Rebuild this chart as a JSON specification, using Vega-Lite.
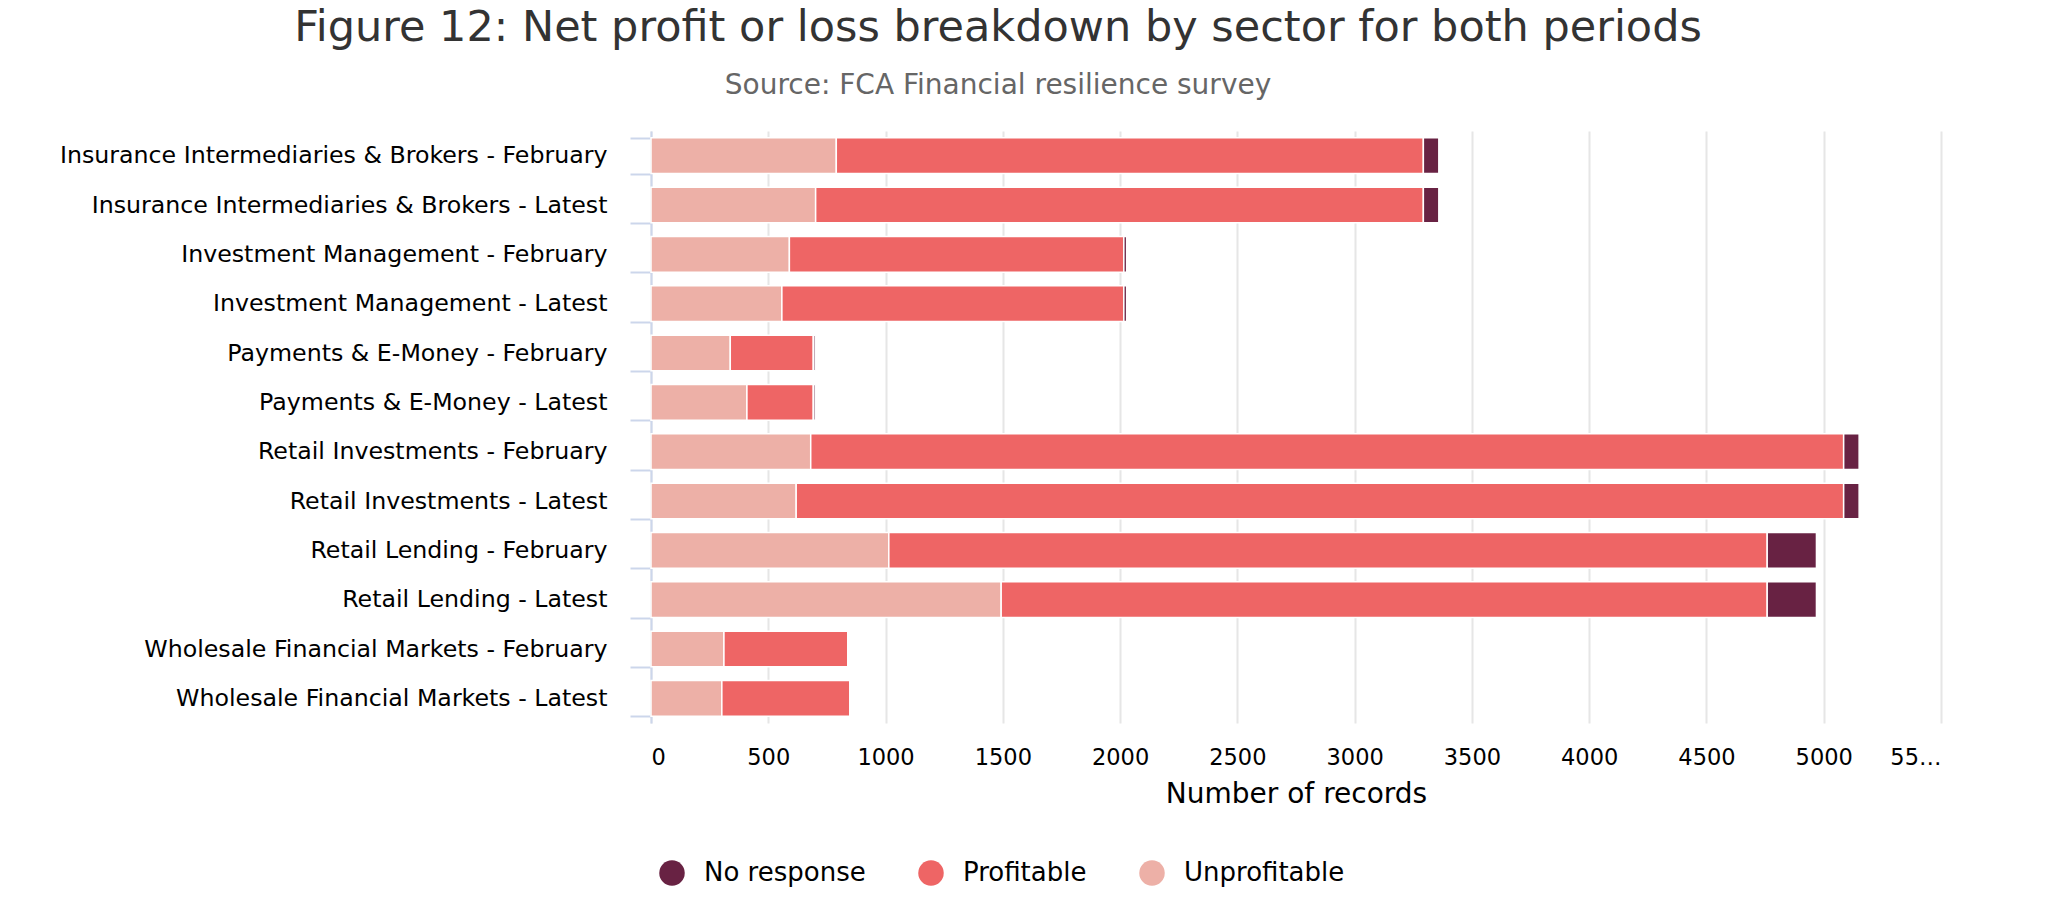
{
  "$schema": "https://vega.github.io/schema/vega-lite/v6.json",
  "autosize": {"type": "none"},
  "padding": {"left": 651, "top": 131, "right": 107, "bottom": 184},
  "width": 1290,
  "height": 592,
  "background": "white",
  "title": {
    "text": "Figure 12: Net profit or loss breakdown by sector for both periods",
    "subtitle": "Source: FCA Financial resilience survey",
    "anchor": "middle",
    "frame": "group",
    "dx": -298,
    "offset": 19,
    "font": "DejaVu Sans",
    "fontSize": 43,
    "fontWeight": "normal",
    "color": "#333333",
    "subtitleFont": "DejaVu Sans",
    "subtitleFontSize": 28,
    "subtitleColor": "#666666",
    "subtitlePadding": 22
  },
  "data": {
    "values": [
      {"sector": "Insurance Intermediaries & Brokers - February", "status": "Unprofitable", "records": 790},
      {"sector": "Insurance Intermediaries & Brokers - February", "status": "Profitable", "records": 2503},
      {"sector": "Insurance Intermediaries & Brokers - February", "status": "No response", "records": 66},
      {"sector": "Insurance Intermediaries & Brokers - Latest", "status": "Unprofitable", "records": 702},
      {"sector": "Insurance Intermediaries & Brokers - Latest", "status": "Profitable", "records": 2591},
      {"sector": "Insurance Intermediaries & Brokers - Latest", "status": "No response", "records": 66},
      {"sector": "Investment Management - February", "status": "Unprofitable", "records": 590},
      {"sector": "Investment Management - February", "status": "Profitable", "records": 1426},
      {"sector": "Investment Management - February", "status": "No response", "records": 12},
      {"sector": "Investment Management - Latest", "status": "Unprofitable", "records": 558},
      {"sector": "Investment Management - Latest", "status": "Profitable", "records": 1458},
      {"sector": "Investment Management - Latest", "status": "No response", "records": 12},
      {"sector": "Payments & E-Money - February", "status": "Unprofitable", "records": 338},
      {"sector": "Payments & E-Money - February", "status": "Profitable", "records": 354},
      {"sector": "Payments & E-Money - February", "status": "No response", "records": 8},
      {"sector": "Payments & E-Money - Latest", "status": "Unprofitable", "records": 409},
      {"sector": "Payments & E-Money - Latest", "status": "Profitable", "records": 283},
      {"sector": "Payments & E-Money - Latest", "status": "No response", "records": 8},
      {"sector": "Retail Investments - February", "status": "Unprofitable", "records": 681},
      {"sector": "Retail Investments - February", "status": "Profitable", "records": 4404},
      {"sector": "Retail Investments - February", "status": "No response", "records": 66},
      {"sector": "Retail Investments - Latest", "status": "Unprofitable", "records": 619},
      {"sector": "Retail Investments - Latest", "status": "Profitable", "records": 4466},
      {"sector": "Retail Investments - Latest", "status": "No response", "records": 66},
      {"sector": "Retail Lending - February", "status": "Unprofitable", "records": 1014},
      {"sector": "Retail Lending - February", "status": "Profitable", "records": 3745},
      {"sector": "Retail Lending - February", "status": "No response", "records": 210},
      {"sector": "Retail Lending - Latest", "status": "Unprofitable", "records": 1493},
      {"sector": "Retail Lending - Latest", "status": "Profitable", "records": 3266},
      {"sector": "Retail Lending - Latest", "status": "No response", "records": 210},
      {"sector": "Wholesale Financial Markets - February", "status": "Unprofitable", "records": 311},
      {"sector": "Wholesale Financial Markets - February", "status": "Profitable", "records": 528},
      {"sector": "Wholesale Financial Markets - February", "status": "No response", "records": 0},
      {"sector": "Wholesale Financial Markets - Latest", "status": "Unprofitable", "records": 302},
      {"sector": "Wholesale Financial Markets - Latest", "status": "Profitable", "records": 546},
      {"sector": "Wholesale Financial Markets - Latest", "status": "No response", "records": 0}
    ]
  },
  "mark": {"type": "bar", "stroke": "white", "strokeWidth": 1.5},
  "encoding": {
    "y": {
      "field": "sector",
      "type": "nominal",
      "sort": null,
      "title": null,
      "scale": {"paddingInner": 0.276, "paddingOuter": 0.138},
      "axis": {
        "domainColor": "#ccd6eb",
        "domainWidth": 2,
        "tickColor": "#ccd6eb",
        "tickWidth": 2,
        "tickSize": 21,
        "tickBand": "extent",
        "labelFont": "DejaVu Sans",
        "labelFontSize": 23.7,
        "labelColor": "#000000",
        "labelPadding": 23,
        "labelLimit": 700
      }
    },
    "x": {
      "field": "records",
      "type": "quantitative",
      "stack": "zero",
      "title": "Number of records",
      "scale": {"domain": [0, 5500], "nice": false},
      "axis": {
        "values": [0, 500, 1000, 1500, 2000, 2500, 3000, 3500, 4000, 4500, 5000, 5500],
        "labelExpr": "datum.value == 5500 ? '55…' : datum.label",
        "format": "d",
        "domain": false,
        "ticks": false,
        "tickSize": 0,
        "gridColor": "#e6e6e6",
        "gridWidth": 2,
        "labelFont": "DejaVu Sans",
        "labelFontSize": 22.5,
        "labelColor": "#000000",
        "labelPadding": 23,
        "titleFont": "DejaVu Sans",
        "titleFontSize": 28,
        "titleFontWeight": "normal",
        "titleColor": "#000000",
        "titlePadding": 12
      }
    },
    "color": {
      "field": "status",
      "type": "nominal",
      "scale": {
        "domain": ["No response", "Profitable", "Unprofitable"],
        "range": ["#682243", "#ee6565", "#edb0a7"]
      },
      "legend": {
        "title": null,
        "orient": "none",
        "direction": "horizontal",
        "legendX": 8,
        "legendY": 729,
        "symbolType": "circle",
        "symbolSize": 650,
        "symbolStrokeWidth": 0,
        "symbolOpacity": 1,
        "labelFont": "DejaVu Sans",
        "labelFontSize": 26,
        "labelColor": "#000000",
        "labelOffset": 19,
        "labelLimit": 400,
        "columnPadding": 52,
        "padding": 0
      }
    },
    "order": {"field": "status", "sort": "descending"}
  },
  "config": {"view": {"stroke": null}}
}
